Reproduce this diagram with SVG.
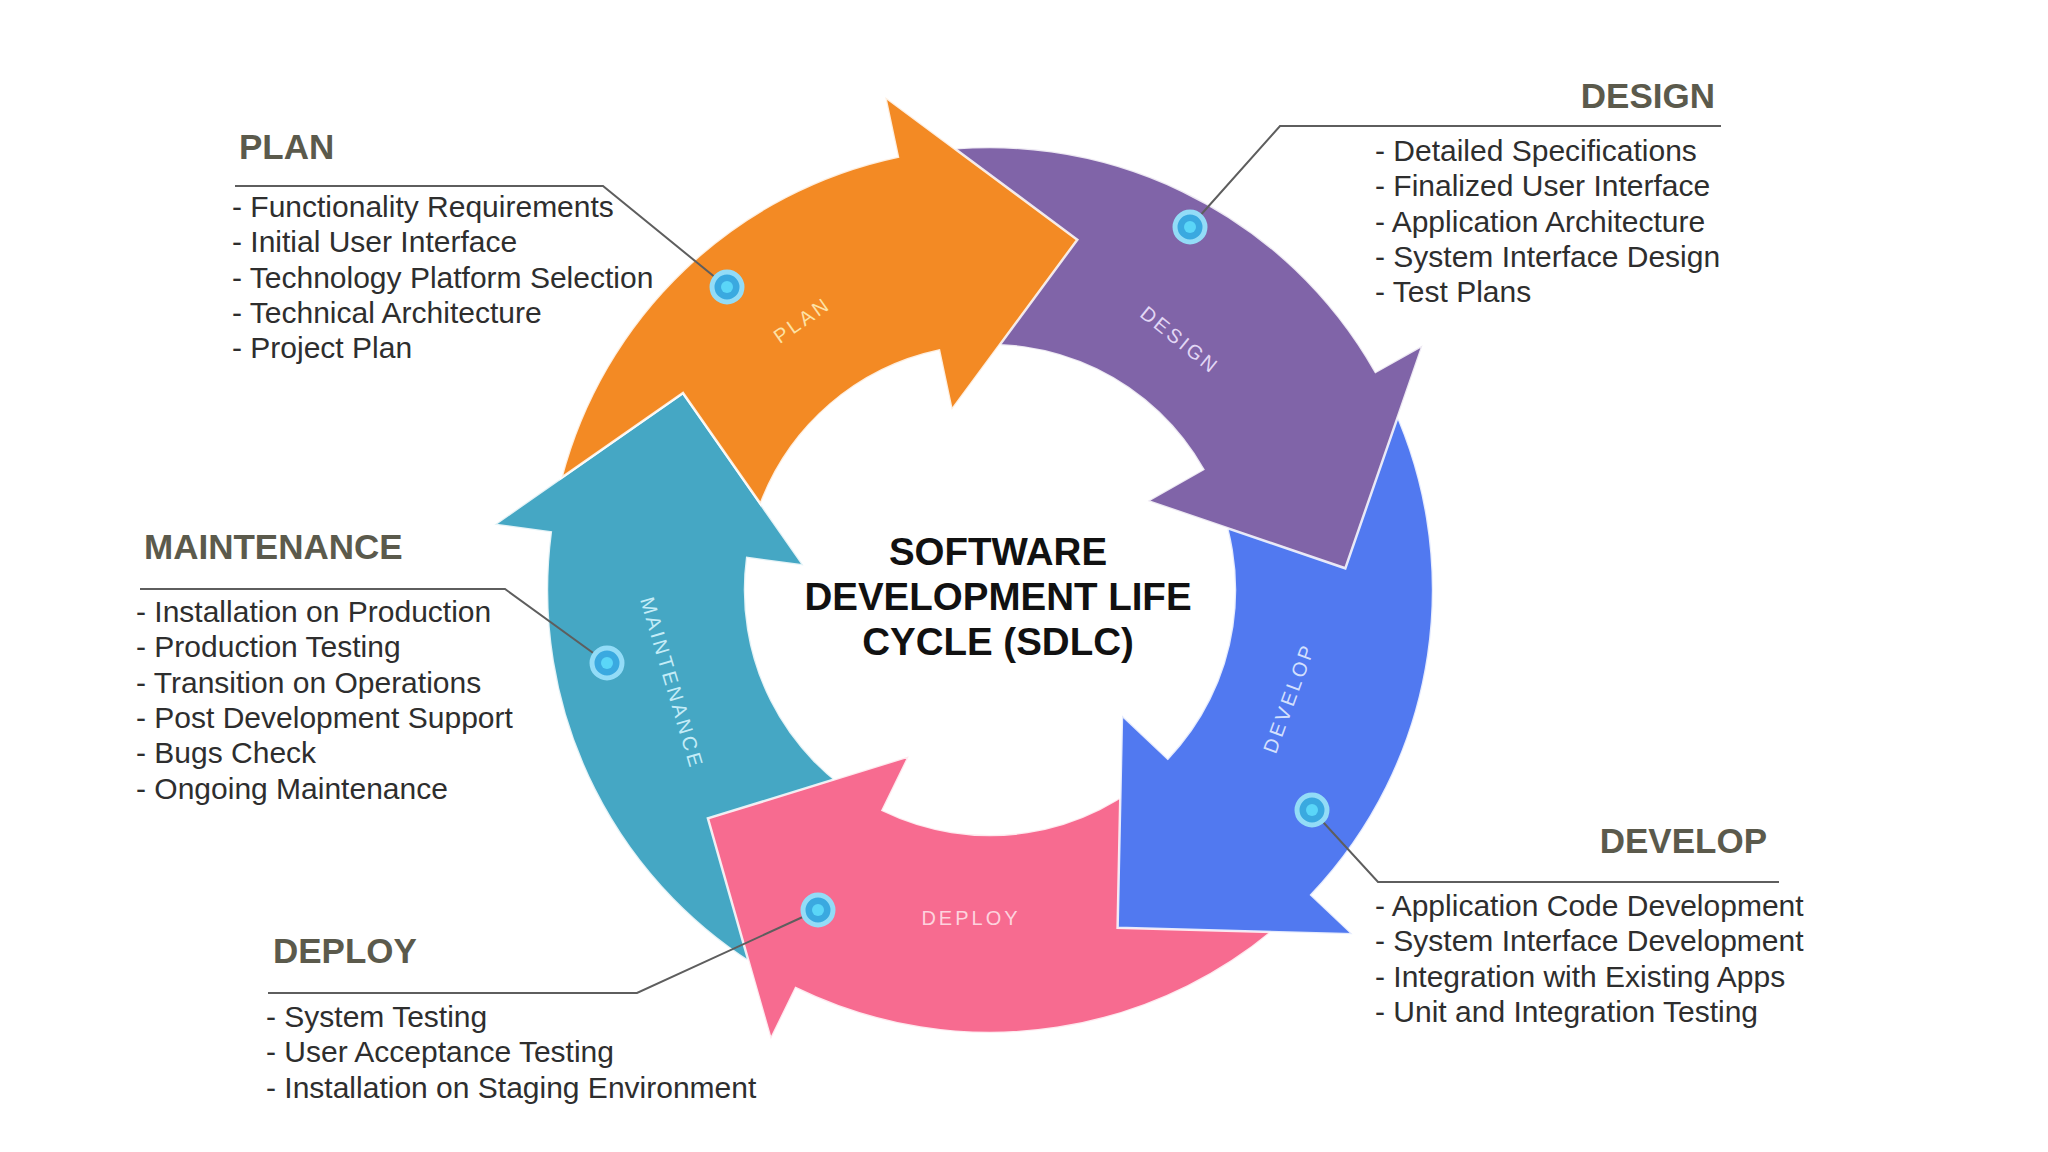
<svg xmlns="http://www.w3.org/2000/svg" width="2048" height="1152" viewBox="0 0 2048 1152">
<style>
.arrow{stroke:#ffffff;stroke-opacity:0.85;stroke-width:2.5;stroke-linejoin:miter}
.lbl{font-family:"Liberation Sans",Arial,sans-serif;font-size:20px;letter-spacing:3px;text-anchor:middle;dominant-baseline:central}
.head{font-family:"Liberation Sans",Arial,sans-serif;font-size:35px;font-weight:bold;fill:#5b5a4c}
.list{font-family:"Liberation Sans",Arial,sans-serif;font-size:30px;fill:#2e2e2e}
.title{font-family:"Liberation Sans",Arial,sans-serif;font-size:38.5px;font-weight:bold;fill:#111111;text-anchor:middle}
.lead{fill:none;stroke:#5e5e5e;stroke-width:2}
.dotring{fill:#3aa9e0;stroke:#93dcf7;stroke-width:5}
.dotcore{fill:#5ad6f8}
</style>
<rect width="2048" height="1152" fill="#ffffff"/>

<g id="maintenance">
<path class="arrow" fill="#45A7C4" d="M 775.2 977.5 A 443 443 0 0 1 550.8 532.2 L 494.3 524.7 L 683 393 L 803.6 565.5 L 747.1 558.0 A 245 245 0 0 0 871.2 804.3 Z"/>
<text class="lbl" fill="#c4ecf7" transform="translate(672 683) rotate(73.5)">MAINTENANCE</text>
<text class="head" x="144" y="559">MAINTENANCE</text>
<text class="list" x="136" y="622"><tspan x="136" dy="0">- Installation on Production</tspan><tspan x="136" dy="35.3">- Production Testing</tspan><tspan x="136" dy="35.3">- Transition on Operations</tspan><tspan x="136" dy="35.3">- Post Development Support</tspan><tspan x="136" dy="35.3">- Bugs Check</tspan><tspan x="136" dy="35.3">- Ongoing Maintenance</tspan></text>
</g>

<g id="deploy">
<path class="arrow" fill="#F76B90" d="M 1294.9 911.3 A 443 443 0 0 1 795.8 988.2 L 770.8 1039.4 L 707.9 818.4 L 908.9 756.3 L 882.6 810.2 A 245 245 0 0 0 1158.6 767.7 Z"/>
<text class="lbl" fill="#fdd3de" transform="translate(971 918)">DEPLOY</text>
<text class="head" x="273" y="963">DEPLOY</text>
<text class="list" x="266" y="1027"><tspan x="266" dy="0">- System Testing</tspan><tspan x="266" dy="35.3">- User Acceptance Testing</tspan><tspan x="266" dy="35.3">- Installation on Staging Environment</tspan></text>
</g>

<g id="develop">
<path class="arrow" fill="#5179F0" d="M 1386.5 392.3 A 443 443 0 0 1 1311.3 894.9 L 1352.7 934.2 L 1117.6 927.7 L 1122.0 715.3 L 1167.7 758.6 A 245 245 0 0 0 1209.3 480.7 Z"/>
<text class="lbl" fill="#d4e0fd" transform="translate(1289 698) rotate(-70)">DEVELOP</text>
<text class="head" x="1767" y="853" text-anchor="end">DEVELOP</text>
<text class="list" x="1375" y="916"><tspan x="1375" dy="0">- Application Code Development</tspan><tspan x="1375" dy="35.3">- System Interface Development</tspan><tspan x="1375" dy="35.3">- Integration with Existing Apps</tspan><tspan x="1375" dy="35.3">- Unit and Integration Testing</tspan></text>
</g>

<g id="design">
<path class="arrow" fill="#8064A8" d="M 920.7 152.5 A 443 443 0 0 1 1375.6 371.9 L 1422.6 345.3 L 1345.3 568.3 L 1147.5 500.9 L 1203.2 469.4 A 245 245 0 0 0 951.7 348.0 Z"/>
<text class="lbl" fill="#e2d7f5" transform="translate(1180 340) rotate(39)">DESIGN</text>
<text class="head" x="1715" y="108" text-anchor="end">DESIGN</text>
<text class="list" x="1375" y="161"><tspan x="1375" dy="0">- Detailed Specifications</tspan><tspan x="1375" dy="35.3">- Finalized User Interface</tspan><tspan x="1375" dy="35.3">- Application Architecture</tspan><tspan x="1375" dy="35.3">- System Interface Design</tspan><tspan x="1375" dy="35.3">- Test Plans</tspan></text>
</g>

<g id="plan">
<path class="arrow" fill="#F38A24" d="M 561.4 477.8 A 443 443 0 0 1 897.9 156.7 L 885.2 97.0 L 1077.3 239.7 L 951.7 410.0 L 939.1 350.4 A 245 245 0 0 0 760.6 504.0 L 683 393 Z"/>
<text class="lbl" fill="#fde2a6" transform="translate(802 320) rotate(-35)">PLAN</text>
<text class="head" x="239" y="159">PLAN</text>
<text class="list" x="232" y="217"><tspan x="232" dy="0">- Functionality Requirements</tspan><tspan x="232" dy="35.3">- Initial User Interface</tspan><tspan x="232" dy="35.3">- Technology Platform Selection</tspan><tspan x="232" dy="35.3">- Technical Architecture</tspan><tspan x="232" dy="35.3">- Project Plan</tspan></text>
</g>

<g id="title">
<text class="title" x="998" y="565">SOFTWARE</text>
<text class="title" x="998" y="610">DEVELOPMENT LIFE</text>
<text class="title" x="998" y="655">CYCLE (SDLC)</text>
</g>

<g id="connectors">
<polyline class="lead" points="235,186 603,186 727,287"/>
<polyline class="lead" points="1190,227 1280,126 1721,126"/>
<polyline class="lead" points="140,589 505,589 607,663"/>
<polyline class="lead" points="1312,810 1378,882 1779,882"/>
<polyline class="lead" points="818,910 637,993 268,993"/>
<circle class="dotring" cx="727" cy="287" r="15"/><circle class="dotcore" cx="727" cy="287" r="6"/>
<circle class="dotring" cx="1190" cy="227" r="15"/><circle class="dotcore" cx="1190" cy="227" r="6"/>
<circle class="dotring" cx="607" cy="663" r="15"/><circle class="dotcore" cx="607" cy="663" r="6"/>
<circle class="dotring" cx="1312" cy="810" r="15"/><circle class="dotcore" cx="1312" cy="810" r="6"/>
<circle class="dotring" cx="818" cy="910" r="15"/><circle class="dotcore" cx="818" cy="910" r="6"/>
</g>
</svg>
